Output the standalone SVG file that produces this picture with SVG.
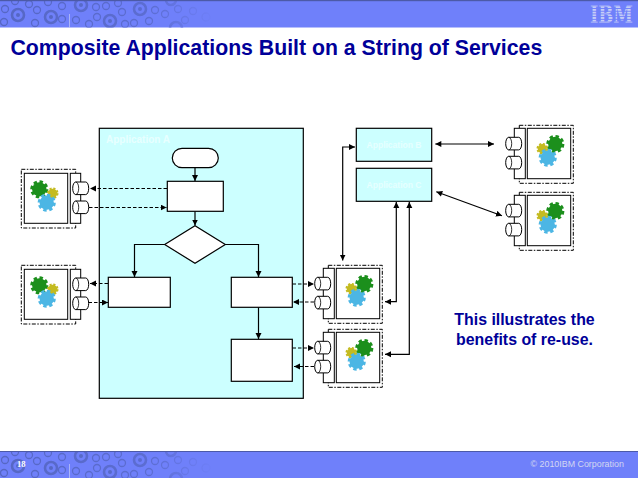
<svg xmlns="http://www.w3.org/2000/svg" width="638" height="479" viewBox="0 0 638 479">
<style>
.band{fill:#6f80fa}
.rule{fill:#4c5aa8}
.box{fill:#fff;stroke:#000;stroke-width:1.2}
.app{fill:#ccffff;stroke:#000;stroke-width:1.2}
.dash{fill:none;stroke:#000;stroke-width:1;stroke-dasharray:4 1.5 1.5 1.5}
.side{fill:#fff;stroke:#000;stroke-width:1}
.sol{fill:none;stroke:#000;stroke-width:1.2;marker-end:url(#ah)}
.dbl{fill:none;stroke:#000;stroke-width:1.2;marker-end:url(#ah);marker-start:url(#as)}
.dsh{fill:none;stroke:#000;stroke-width:1;stroke-dasharray:3.5 2;marker-end:url(#ah)}
.apptxt{font:bold 8.5px "Liberation Sans",Arial,sans-serif;fill:#e6ffff}
.ring{fill:none;stroke:url(#fade);stroke-width:1.3}
.ringb{fill:none;stroke:url(#fade);stroke-width:2.6}
text{font-family:"Liberation Sans",Arial,sans-serif}
</style>
<defs>
<linearGradient id="fade" gradientUnits="userSpaceOnUse" x1="0" y1="0" x2="215" y2="0">
<stop offset="0" stop-color="#5667c4"/><stop offset=".7" stop-color="#5c6dd2"/><stop offset="1" stop-color="#6f80fa"/>
</linearGradient>
<pattern id="stripes" patternUnits="userSpaceOnUse" x="0" y="0" width="10" height="2.03">
<rect width="10" height="2.03" fill="#6f80fa"/><rect width="10" height="1.3" fill="#c9d0f6"/>
</pattern>
<marker id="ah" markerUnits="userSpaceOnUse" markerWidth="7" markerHeight="7" refX="6" refY="3" orient="auto"><path d="M0 0L6 3L0 6z" fill="#000"/></marker>
<marker id="as" markerUnits="userSpaceOnUse" markerWidth="7" markerHeight="7" refX="0" refY="3" orient="auto"><path d="M6 0L0 3L6 6z" fill="#000"/></marker>
<g id="pat">
<circle class="ringb" cx="18" cy="15" r="6"/><circle cx="18" cy="15" r="2" fill="#5667c4"/>
<circle class="ringb" cx="51" cy="17" r="6"/><circle cx="51" cy="17" r="2" fill="#5667c4"/>
<circle class="ringb" cx="81" cy="5" r="6"/><circle cx="81" cy="5" r="2" fill="#586ac8"/>
<circle class="ringb" cx="110" cy="21" r="6"/><circle cx="110" cy="21" r="2" fill="#586ac8"/>
<circle class="ringb" cx="140" cy="9" r="6"/><circle cx="140" cy="9" r="2" fill="#5a6bd0"/>
<circle class="ringb" cx="176" cy="28" r="6"/><circle class="ringb" cx="171" cy="0" r="5"/>
<circle class="ring" cx="5" cy="9" r="3.5"/><circle class="ring" cx="4" cy="22" r="3.5"/><circle class="ring" cx="15" cy="1" r="3.5"/>
<circle class="ring" cx="29" cy="4" r="3.5"/><circle class="ring" cx="37" cy="10" r="3.5"/><circle class="ring" cx="35" cy="23" r="3.5"/>
<circle class="ring" cx="48" cy="2" r="3.5"/><circle class="ring" cx="62" cy="6" r="3.5"/><circle class="ring" cx="62" cy="19" r="3.5"/>
<circle class="ring" cx="76" cy="20" r="3.5"/><circle class="ring" cx="89" cy="24" r="3.5"/><circle class="ring" cx="96" cy="7" r="3.5"/>
<circle class="ring" cx="97" cy="17" r="3.5"/><circle class="ring" cx="106" cy="6" r="3.5"/><circle class="ring" cx="118" cy="3" r="3.5"/>
<circle class="ring" cx="122" cy="12" r="3.5"/><circle class="ring" cx="125" cy="24" r="3.5"/><circle class="ring" cx="134" cy="23" r="3.5"/>
<circle class="ring" cx="149" cy="21" r="3.5"/><circle class="ring" cx="155" cy="10" r="3.5"/><circle class="ring" cx="165" cy="14" r="3.5"/>
<circle class="ring" cx="178" cy="9" r="3.5"/><circle class="ring" cx="185" cy="20" r="3.5"/><circle class="ring" cx="193" cy="11" r="3.5"/>
<circle class="ring" cx="206" cy="17" r="4"/>
</g>
<g id="gear"><circle r="6.4" fill="currentColor"/><circle r="6.8" fill="none" stroke="currentColor" stroke-width="2.6" stroke-dasharray="3 2.34"/></g>
<g id="cyl">
<path d="M3 0H13A3 6.3 0 0 1 13 12.6H3A3 6.3 0 0 1 3 0z" fill="#fff" stroke="#000"/>
<path d="M3 0A3 6.3 0 0 1 3 12.6" fill="none" stroke="#000" stroke-width=".8"/>
</g>
<g id="svcL">
<rect class="dash" x="21.3" y="169.3" width="54.4" height="58.7"/>
<rect class="box" x="24.3" y="173.3" width="43.4" height="50" style="stroke-width:1"/>
<rect class="side" x="70.3" y="173.3" width="10.4" height="50"/>
<use href="#cyl" x="72.7" y="182"/><use href="#cyl" x="72.7" y="201"/>
<use href="#gear" transform="translate(39.3 189.3) scale(1.12)" color="#1c8f1c"/>
<use href="#gear" transform="translate(52.7 193.3) scale(.72)" color="#c4bb20"/>
<use href="#gear" transform="translate(46.7 202.7) scale(1.12)" color="#4cb6e4"/>
</g>
<g id="svcR">
<rect class="dash" x="328.3" y="265.3" width="54" height="58"/>
<rect class="side" x="323.3" y="268.3" width="11" height="50.4"/>
<rect class="box" x="336.3" y="268.3" width="43.4" height="50.4" style="stroke-width:1"/>
<use href="#cyl" x="314.7" y="277.3"/><use href="#cyl" x="314.7" y="296.3"/>
<use href="#gear" transform="translate(364.3 284) scale(1.12)" color="#1c8f1c"/>
<use href="#gear" transform="translate(351.3 288.7) scale(.72)" color="#c4bb20"/>
<use href="#gear" transform="translate(356.7 297.7) scale(1.12)" color="#4cb6e4"/>
</g>
</defs>
<rect width="638" height="479" fill="#fff"/>
<g id="header">
<rect class="band" y="0" width="638" height="27.5"/>
<svg x="0" y="0" width="638" height="27.5" viewBox="0 0 638 27.5"><use href="#pat"/></svg>
<rect class="rule" width="638" height="1.2"/>
<rect x="69" y="14" width=".7" height="13.5" fill="#c5ccf5"/>
<text transform="translate(590 22.5) scale(1 1.33)" style="font:bold 17.8px 'DejaVu Serif',serif" fill="url(#stripes)">IBM</text>
</g>
<g id="footer">
<rect class="band" y="451" width="638" height="27"/>
<svg x="0" y="451" width="638" height="27" viewBox="0 0 638 27"><use href="#pat"/></svg>
<rect class="rule" y="451" width="638" height="1"/>
<rect x="69" y="464" width=".7" height="14" fill="#c5ccf5"/>
<text x="17" y="466.5" style="font:bold 8.5px 'Liberation Serif',serif" fill="#fff">18</text>
<text x="530.5" y="466.5" font-size="8.9" fill="#d3d7f2">© 2010IBM Corporation</text>
</g>
<text id="title" x="10.5" y="54.5" font-size="21.25" font-weight="bold" fill="#000099">Composite Applications Built on a String of Services</text>
<g id="appA">
<rect class="app" x="99.3" y="128.3" width="204" height="270"/>
<text x="106" y="143" font-size="10" font-weight="bold" fill="#e8ffff">Application A</text>
</g>
<g id="start"><rect class="box" x="172.3" y="148.3" width="46" height="19.4" rx="9.7"/></g>
<g id="box1"><rect class="box" x="167.3" y="181.3" width="56" height="30"/></g>
<g id="decision"><path class="box" d="M164.7 244.5L195 225.7L225.3 244.5L195 263.3z"/></g>
<g id="box2"><rect class="box" x="108.3" y="277.3" width="62" height="30"/></g>
<g id="box3"><rect class="box" x="231.3" y="277.3" width="61" height="30"/></g>
<g id="box4"><rect class="box" x="231.3" y="339.3" width="61" height="42"/></g>
<g id="appB"><rect class="app" x="356.3" y="128.3" width="75.4" height="33"/><text class="apptxt" x="394" y="148" text-anchor="middle">Application B</text></g>
<g id="appC"><rect class="app" x="356.3" y="168.3" width="75.4" height="33"/><text class="apptxt" x="394" y="188" text-anchor="middle">Application C</text></g>
<g id="svc1"><use href="#svcL"/></g>
<g id="svc2"><use href="#svcL" y="96"/></g>
<g id="svc3"><use href="#svcR"/></g>
<g id="svc4"><use href="#svcR" y="64"/></g>
<g id="svc5"><use href="#svcR" x="191" y="-140"/></g>
<g id="svc6"><use href="#svcR" x="191" y="-73"/></g>
<g id="connectors">
<path class="sol" d="M195 168V181"/>
<path class="sol" d="M195 211.5V225.5"/>
<path class="sol" d="M164.7 244.5H134.5V277"/>
<path class="sol" d="M225.3 244.5H258.5V277"/>
<path class="sol" d="M258.5 307.5V339"/>
<path class="dsh" d="M167 188.5H90"/>
<path class="dsh" d="M89 207.5H166.5"/>
<path class="dsh" d="M108 283.5H90"/>
<path class="dsh" d="M88.5 302.5H108"/>
<path class="dsh" d="M292.5 284H314"/>
<path class="dsh" d="M314 302H293"/>
<path class="dsh" d="M292.5 348H314"/>
<path class="dsh" d="M314 366.5H294"/>
<path class="dbl" d="M355 147H342.7V260.5"/>
<path class="dbl" d="M385 301.7H396.3V202"/>
<path class="dbl" d="M385 354.3H409.3V202"/>
<path class="dbl" d="M435.3 144H494"/>
<path class="dbl" d="M436.3 191.7L502 215.7"/>
</g>
<g id="note" font-size="15.9" font-weight="bold" fill="#000099" text-anchor="middle">
<text x="524.5" y="324.5">This illustrates the</text>
<text x="524.5" y="344.5">benefits of re-use.</text>
</g>
</svg>
